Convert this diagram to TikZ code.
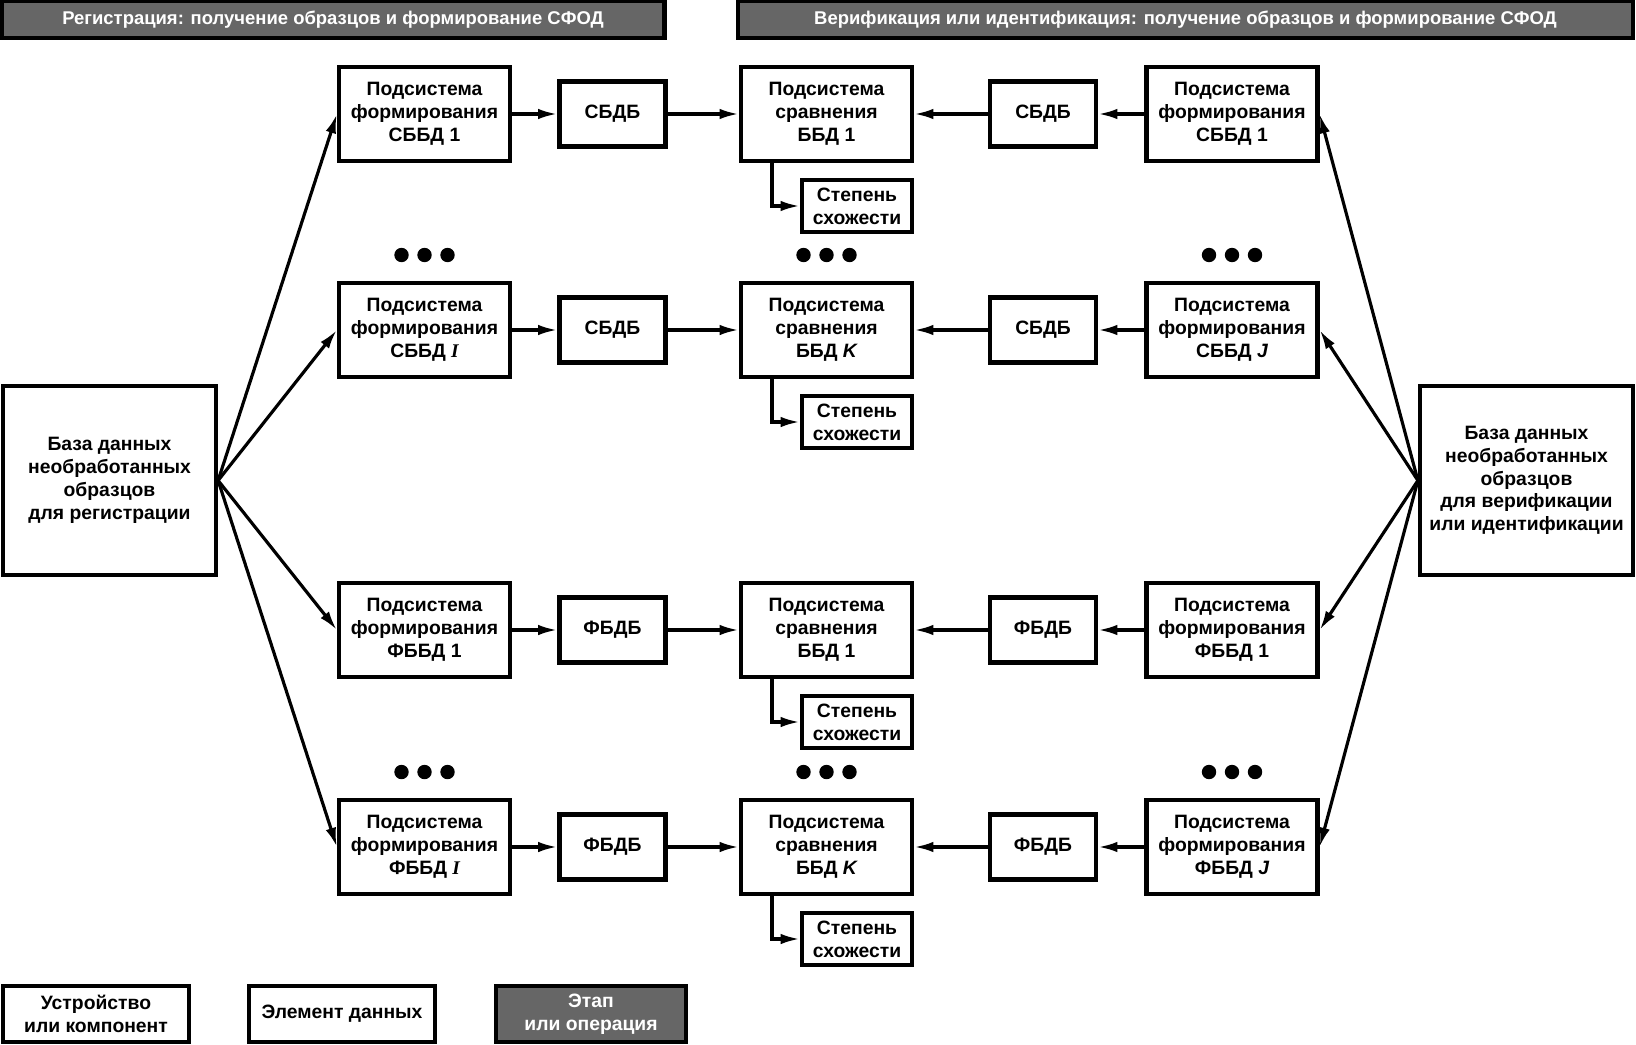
\documentclass[tikz,border=0pt]{standalone}
\usepackage{fontspec}
\setmainfont{Liberation Sans}
\newfontfamily\serifit{Liberation Serif}
\usepackage{tikz}
\usetikzlibrary{arrows.meta}

\newcommand{\idxI}{{\serifit\bfseries\itshape I}}
\newcommand{\idxK}{{\itshape K}}
\newcommand{\idxJ}{{\itshape J}}

\begin{document}
\begin{tikzpicture}[x=0.2mm,y=-0.2mm,auto,
  font=\bfseries\fontsize{11}{13}\selectfont,
  box/.style={draw,align=center,inner sep=0pt,line width=2.4pt},
  unit/.style={box,minimum width=34.2mm,minimum height=18.8mm},
  data/.style={box,minimum width=21.2mm,minimum height=13mm},
  sim/.style={box,minimum width=22mm,minimum height=10.4mm},
  db/.style={box,minimum width=42.6mm,minimum height=37.8mm},
  stage/.style={box,fill=black!60,text=white,minimum height=7.4mm},
  link/.style={-{Latex[length=11pt,width=6pt]},line width=1.8pt}]
        \useasboundingbox (0,0) rectangle (1636,1045);

        % headers
        \node[stage,minimum width=132.6mm,font=\bfseries\fontsize{10.5}{12}\selectfont] (reghead) at (333,19.5) {Регистрация: получение образцов и формирование СФОД};
        \node[stage,minimum width=179mm,font=\bfseries\fontsize{10.5}{12}\selectfont] (verhead) at (1185.5,19.5) {Верификация или идентификация: получение образцов и формирование СФОД};

        % raw sample databases
        \node[db] (regdb) at (109.5,480.5) {База данных\\необработанных\\образцов\\для регистрации};
        \node[db] (verdb) at (1526.5,480.5) {База данных\\необработанных\\образцов\\для верификации\\или идентификации};

        % row 1
        \node[unit] (fl1) at (424.5,114) {Подсистема\\формирования\\СББД 1};
        \node[data] (dl1) at (612.5,114) {СБДБ};
        \node[unit] (cmp1) at (826.5,114) {Подсистема\\сравнения\\ББД 1};
        \node[data] (dr1) at (1043,114) {СБДБ};
        \node[unit] (fr1) at (1232,114) {Подсистема\\формирования\\СББД 1};
        \node[sim] (sim1) at (857,206) {Степень\\схожести};

        % row 2
        \node[unit] (fl2) at (424.5,330) {Подсистема\\формирования\\СББД \idxI};
        \node[data] (dl2) at (612.5,330) {СБДБ};
        \node[unit] (cmp2) at (826.5,330) {Подсистема\\сравнения\\ББД \idxK};
        \node[data] (dr2) at (1043,330) {СБДБ};
        \node[unit] (fr2) at (1232,330) {Подсистема\\формирования\\СББД \idxJ};
        \node[sim] (sim2) at (857,422) {Степень\\схожести};

        % row 3
        \node[unit] (fl3) at (424.5,630) {Подсистема\\формирования\\ФББД 1};
        \node[data] (dl3) at (612.5,630) {ФБДБ};
        \node[unit] (cmp3) at (826.5,630) {Подсистема\\сравнения\\ББД 1};
        \node[data] (dr3) at (1043,630) {ФБДБ};
        \node[unit] (fr3) at (1232,630) {Подсистема\\формирования\\ФББД 1};
        \node[sim] (sim3) at (857,722) {Степень\\схожести};

        % row 4
        \node[unit] (fl4) at (424.5,847) {Подсистема\\формирования\\ФББД \idxI};
        \node[data] (dl4) at (612.5,847) {ФБДБ};
        \node[unit] (cmp4) at (826.5,847) {Подсистема\\сравнения\\ББД \idxK};
        \node[data] (dr4) at (1043,847) {ФБДБ};
        \node[unit] (fr4) at (1232,847) {Подсистема\\формирования\\ФББД \idxJ};
        \node[sim] (sim4) at (857,939) {Степень\\схожести};

        % ellipsis dots
        \foreach \x in {424.5,826.5,1232}
          \foreach \y in {255,772}
            \fill (\x-23,\y) circle (7.2) (\x,\y) circle (7.2) (\x+23,\y) circle (7.2);

        % legend
        \node[box,minimum width=37.2mm,minimum height=11.2mm] (lgunit) at (96,1014) {Устройство\\или компонент};
        \node[box,minimum width=37.2mm,minimum height=11.2mm] (lgdata) at (342,1014) {Элемент данных};
        \node[stage,minimum width=38mm,minimum height=11.2mm] (lgstage) at (591,1014) {Этап\\или операция};

        \path[link]
          (regdb.east) edge (fl1.west)
          (regdb.east) edge (fl2.west)
          (regdb.east) edge (fl3.west)
          (regdb.east) edge (fl4.west)
          (verdb.west) edge (fr1.east)
          (verdb.west) edge (fr2.east)
          (verdb.west) edge (fr3.east)
          (verdb.west) edge (fr4.east);
        \path[link]
          (fl1) edge (dl1) (dl1) edge (cmp1) (fr1) edge (dr1) (dr1) edge (cmp1)
          (fl2) edge (dl2) (dl2) edge (cmp2) (fr2) edge (dr2) (dr2) edge (cmp2)
          (fl3) edge (dl3) (dl3) edge (cmp3) (fr3) edge (dr3) (dr3) edge (cmp3)
          (fl4) edge (dl4) (dl4) edge (cmp4) (fr4) edge (dr4) (dr4) edge (cmp4);
        \draw[link] ([xshift=-10.9mm]cmp1.south) |- (sim1);
        \draw[link] ([xshift=-10.9mm]cmp2.south) |- (sim2);
        \draw[link] ([xshift=-10.9mm]cmp3.south) |- (sim3);
        \draw[link] ([xshift=-10.9mm]cmp4.south) |- (sim4);
      \end{tikzpicture}
\end{document}
